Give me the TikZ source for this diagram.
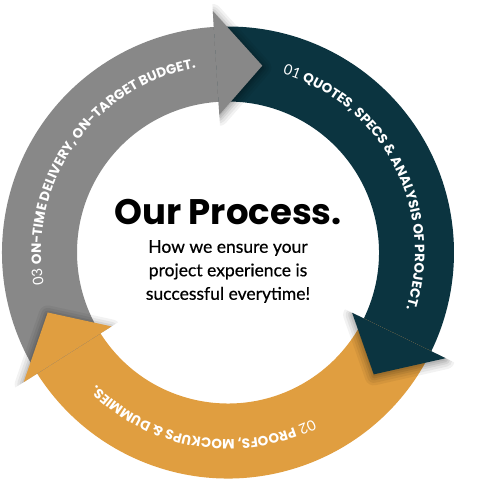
\documentclass[tikz,border=0pt]{standalone}
\usepackage{fontspec}
\setmainfont{Lato}
\newfontfamily\popfont{Poppins}
\newfontfamily\subfont{Lato}[FakeBold=0.6]
\usetikzlibrary{decorations.text}
\definecolor{cteal}{HTML}{0B3440}
\definecolor{cgray}{HTML}{888888}
\definecolor{corange}{HTML}{E09E40}
\tikzset{
  ringtext/.style={decorate, decoration={text along path, text align=left, text color=white}},
  shadowstroke/.style={draw=black, line join=round, opacity=#1},
}
\newcommand\lt{\fontsize{14.5}{16}\selectfont}
\newcommand\bt{\popfont\fontsize{13.5}{16}\selectfont\bfseries}
\begin{document}
\begin{tikzpicture}[x=1pt,y=1pt]
\useasboundingbox (-228,-246.5) rectangle (272,252.5);
\def\Hg{93.6}\def\Ht{-25.9}\def\Ho{-147.6}
% bands
\fill[cteal] (\Hg:226) arc[start angle=\Hg, end angle=\Ht, radius=226pt] -- (\Ht:151) arc[start angle=\Ht, end angle=\Hg, radius=151pt] -- cycle;
\fill[corange] (\Ht:226) arc[start angle=\Ht, end angle=\Ho, radius=226pt] -- (\Ho:151) arc[start angle=\Ho, end angle=\Ht, radius=151pt] -- cycle;
\fill[cgray] ({\Ho+360}:226) arc[start angle={\Ho+360}, end angle=\Hg, radius=226pt] -- (\Hg:151) arc[start angle=\Hg, end angle={\Ho+360}, radius=151pt] -- cycle;
% shadows of heads
\foreach \B in {\Hg,\Ht,\Ho}{
  \begin{scope}
    \clip (0,0) -- (\B:320) arc[start angle=\B, end angle={\B-70}, radius=320pt] -- cycle;
    \begin{scope}[yshift=-2pt]
      \foreach \w/\op in {18/0.05,13/0.06,8/0.07,4/0.08}{
        \draw[shadowstroke=\op, line width=\w pt] (\B:242) -- ({\B-14}:190) -- (\B:138) -- cycle;
      }
      \fill[black, opacity=0.08] (\B:242) -- ({\B-14}:190) -- (\B:138) -- cycle;
    \end{scope}
  \end{scope}
}
% heads
\fill[cgray] (\Hg:242) -- ({\Hg-14}:190) -- (\Hg:138) -- cycle;
\fill[cteal] (\Ht:242) -- ({\Ht-14}:190) -- (\Ht:138) -- cycle;
\fill[corange] (\Ho:242) -- ({\Ho-14}:190) -- (\Ho:138) -- cycle;
% ring texts
\path[ringtext, decoration={text={|\lt|01 |\bt|QUOTES, SPECS {\&} ANALYSIS OF PROJECT.}}]
  (73:187) arc[start angle=73, end angle=-45, radius=187pt];
\path[ringtext, decoration={text={|\lt|02 |\bt|PROOFS, MOCKUPS {\&} DUMMIES.}}]
  (-63:187) arc[start angle=-63, end angle=-160, radius=187pt];
\path[ringtext, decoration={text={|\lt|03 |\bt|ON-TIME DELIVERY, ON-TARGET BUDGET.}}]
  (190:187) arc[start angle=190, end angle=80, radius=187pt];
% centre text
\node[font=\popfont\fontsize{35.5}{40}\selectfont\bfseries] (title) at (0,41) {Our Process.};
\node[align=center, font=\subfont\fontsize{17.5}{23.5}\selectfont] (sub) at (0,-19) {How we ensure your\\project experience is\\successful everytime!};
\end{tikzpicture}
\end{document}
